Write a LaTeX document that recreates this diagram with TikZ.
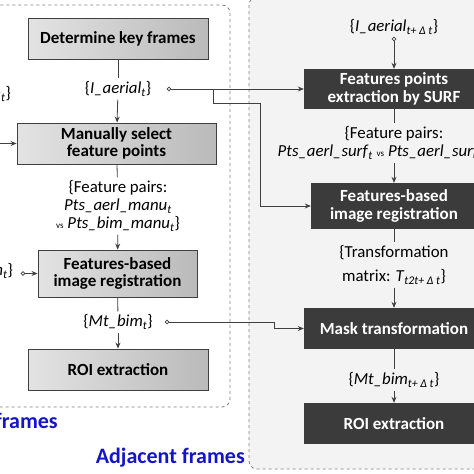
\documentclass[tikz,border=0pt]{standalone}
\usepackage{fontspec}
\setmainfont{Carlito}
\usetikzlibrary{arrows.meta}
\definecolor{boxdark}{RGB}{59,59,59}
\definecolor{linegray}{RGB}{64,64,64}
\definecolor{panelgray}{RGB}{243,243,243}
\definecolor{framesblue}{RGB}{20,20,205}
\newcommand{\lowit}[1]{\textsubscript{\itshape #1}}
\tikzset{lightbox/.style={draw=linegray,line width=0.9pt,left color=black!11,right color=black!27,
           font=\fontsize{17}{17.5}\selectfont\bfseries,align=center,inner sep=0pt},
         darkbox/.style={fill=boxdark,text=white,font=\fontsize{17}{17.5}\selectfont\bfseries,
           align=center,inner sep=0pt},
         lbl/.style={font=\fontsize{16.8}{18}\selectfont,align=center,inner sep=3pt},
         link/.style={draw=linegray,line width=0.8pt},
         linkarrow/.style={link,-{Stealth[length=6pt,width=5pt]}},
         tap/.style={circle,draw=linegray,fill=white,line width=0.7pt,inner sep=1.4pt},
         panel/.style={draw=gray,dashed,rounded corners=8pt,line width=0.8pt},
         title/.style={text=framesblue,font=\fontsize{22}{24}\selectfont\bfseries,inner sep=0pt}}

\begin{document}
\begin{tikzpicture}[x=1pt,y=-1pt]
  \useasboundingbox (0,0) rectangle (474,474);
  % the two panels
  \draw[panel,fill=panelgray] (249,-3) rectangle (510,469);
  \draw[panel,fill=white] (-30,5) rectangle (230,407);

  % key frames
  \node[lightbox,minimum width=180,minimum height=41] (key) at (118,38.5) {Determine key frames};
  \node[lbl] (aer) at (118,89) {\{\textit{I\_aerial}\lowit{t}\}};
  \node[lightbox,minimum width=199,minimum height=41] (man) at (116.5,143.5) {Manually select\\feature points};
  \node[lbl] (pairA) at (118,206) {\{Feature pairs:\\\textit{Pts\_aerl\_manu}\lowit{t}\\{\small vs} \textit{Pts\_bim\_manu}\lowit{t}\}};
  \node[lightbox,minimum width=159,minimum height=47] (regA) at (117.5,273.5) {Features-based\\image registration};
  \node[lbl] (mtA) at (118,322) {\{\textit{Mt\_bim}\lowit{t}\}};
  \node[lightbox,minimum width=180,minimum height=41] (roiA) at (118,369.5) {ROI extraction};

  \draw[link] (key) -- (aer);
  \draw[linkarrow] (aer) -- (man);
  \draw[link] (man) -- (pairA);
  \draw[linkarrow] (pairA) -- (regA);
  \draw[link] (regA) -- (mtA);
  \draw[linkarrow] (mtA) -- (roiA);

  % inputs coming in from the left
  \node[lbl,anchor=east] (bimA) at (14,94) {\{\textit{I\_bim}\lowit{t}\}};
  \coordinate (inA) at (-5,143.5);
  \draw[linkarrow] (inA) -- (man);
  \node[lbl,anchor=east] (bimB) at (16,271) {\{\textit{M\_bim}\lowit{t}\}};
  \node[tap] (tapC) at (23,273.5) {};
  \draw[linkarrow] (tapC) -- (regA);

  % adjacent frames
  \node[lbl] (aerB) at (394,27) {\{\textit{I\_aerial}\lowit{t+ Δ t}\}};
  \node[tap] (tapD) at (394,39) {};
  \node[darkbox,minimum width=180,minimum height=40] (surf) at (394,89) {Features points\\extraction by SURF};
  \node[lbl] (pairB) at (394,143) {\{Feature pairs:\\\textit{Pts\_aerl\_surf}\lowit{t} {\small vs} \textit{Pts\_aerl\_surf}\lowit{t+ Δ t}\}};
  \node[darkbox,minimum width=166,minimum height=46] (regB) at (394,206) {Features-based\\image registration};
  \node[lbl,font=\fontsize{16.8}{24}\selectfont] (trans) at (394,265) {\{Transformation\\matrix: \textit{T}\lowit{t2t+ Δ t}\}};
  \node[darkbox,minimum width=180,minimum height=41] (mask) at (394,328.5) {Mask transformation};
  \node[lbl] (mtB) at (394,380) {\{\textit{Mt\_bim}\lowit{t+ Δ t}\}};
  \node[darkbox,minimum width=180,minimum height=41] (roiB) at (394,423.5) {ROI extraction};

  \draw[linkarrow] (tapD) -- (surf);
  \draw[link] (surf) -- (pairB);
  \draw[linkarrow] (pairB) -- (regB);
  \draw[link] (regB) -- (trans);
  \draw[linkarrow] (trans) -- (mask);
  \draw[link] (mask) -- (mtB);
  \draw[linkarrow] (mtB) -- (roiB);

  % links across the panels
  \node[tap] (tapA) at (169,89) {};
  \coordinate (brA) at (213,89);
  \coordinate (bendA) at (260,103);
  \draw[linkarrow] (tapA) -- (surf);
  \draw[linkarrow] (brA) |- (bendA) |- (regB);
  \node[tap] (tapB) at (167,322) {};
  \coordinate (bendB) at (274,322);
  \draw[linkarrow] (tapB) -- (bendB) |- (mask);

  \node[title,anchor=east] (keyT) at (58,423) {Key frames};
  \node[title,anchor=east] (adjT) at (245,458) {Adjacent frames};
\end{tikzpicture}
\end{document}
